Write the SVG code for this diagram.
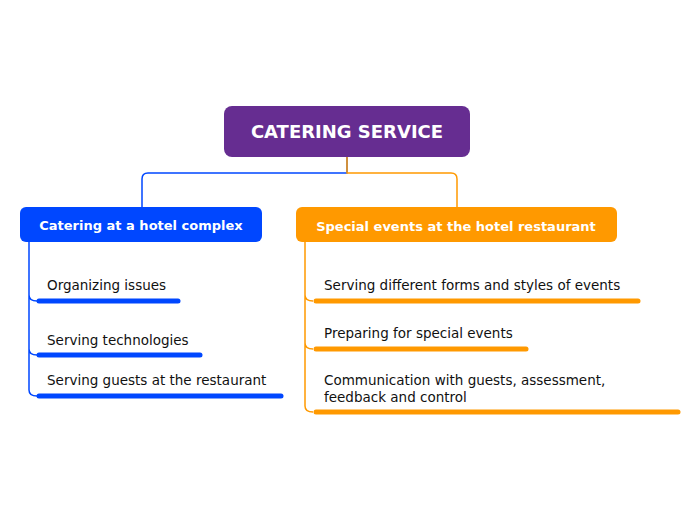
<svg xmlns="http://www.w3.org/2000/svg" width="696" height="520" viewBox="0 0 696 520">
<style>
text{font-family:"DejaVu Sans",Verdana,sans-serif}
.root{font-size:18px;font-weight:bold;fill:#fff}
.br{font-size:13px;font-weight:bold;fill:#fff}
.sub{font-size:13.5px;fill:#111}
.c{fill:none;stroke-width:1.5}
.ub{stroke:#0047ff;stroke-width:5;stroke-linecap:round}
.uo{stroke:#ff9900;stroke-width:5;stroke-linecap:round}
</style>
<rect width="696" height="520" fill="#fff"/>
<g id="connectors">
<path class="c" stroke="#0047ff" d="M347 157V173H148Q142 173 142 179V207"/>
<path class="c" stroke="#ff9900" d="M347 157V173H451Q457 173 457 179V207"/>
<path class="c" stroke="#0047ff" stroke-width="1" d="M29 242V295Q29 301 37 301M29 295V349Q29 355 37 355M29 349V390Q29 396 37 396"/>
<path class="c" stroke="#ff9900" stroke-width="1" d="M305 242V295Q305 301 313 301M305 295V343Q305 349 313 349M305 343V406Q305 412 313 412"/>
</g>
<g id="root"><rect x="224" y="106" width="246" height="51" rx="8" fill="#662d91"/><text class="root" x="347" y="138" text-anchor="middle">CATERING SERVICE</text></g>
<g id="b1"><rect x="20" y="207" width="242" height="35" rx="6" fill="#0047ff"/><text class="br" x="141" y="230" text-anchor="middle">Catering at a hotel complex</text></g>
<g id="b2"><rect x="296" y="207" width="321" height="35" rx="6" fill="#ff9900"/><text class="br" x="456" y="231" text-anchor="middle">Special events at the hotel restaurant</text></g>
<g id="s1"><line class="ub" x1="39" y1="301" x2="178" y2="301"/><text class="sub" x="47" y="290">Organizing issues</text></g>
<g id="s2"><line class="ub" x1="39" y1="355" x2="200" y2="355"/><text class="sub" x="47" y="345">Serving technologies</text></g>
<g id="s3"><line class="ub" x1="39" y1="396" x2="281" y2="396"/><text class="sub" x="47" y="385">Serving guests at the restaurant</text></g>
<g id="o1"><line class="uo" x1="316" y1="301" x2="638" y2="301"/><text class="sub" x="324" y="290">Serving different forms and styles of events</text></g>
<g id="o2"><line class="uo" x1="316" y1="349" x2="526" y2="349"/><text class="sub" x="324" y="338">Preparing for special events</text></g>
<g id="o3"><line class="uo" x1="316" y1="412" x2="678" y2="412"/><text class="sub" x="324" y="385">Communication with guests, assessment,</text><text class="sub" x="324" y="402">feedback and control</text></g>
</svg>
